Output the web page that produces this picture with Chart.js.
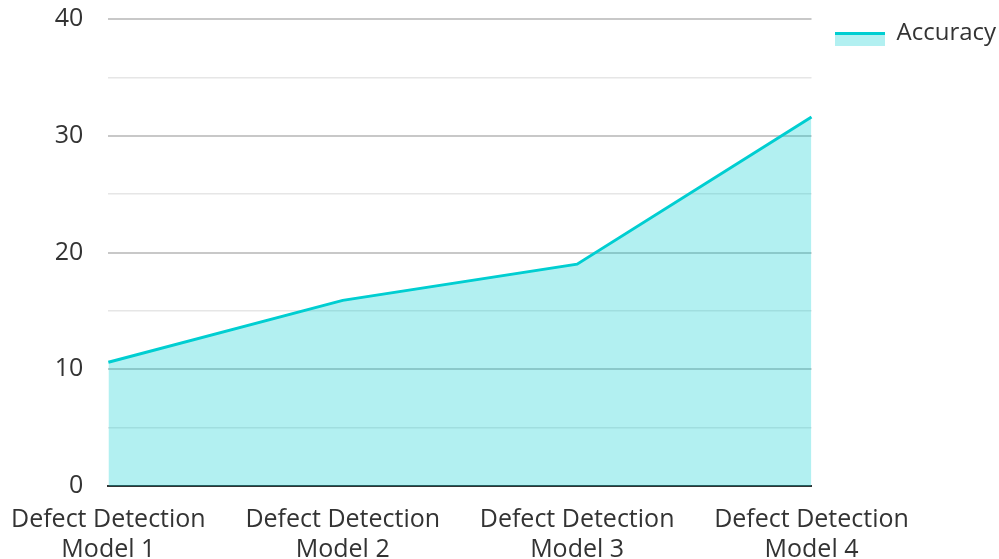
<!DOCTYPE html>
<html>
<head>
<meta charset="utf-8">
<script src="https://cdn.jsdelivr.net/npm/chart.js@4"></script>
<style>
  html, body { margin: 0; padding: 0; background: #fff; }
  #wrap { width: 999px; height: 559px; position: relative; }
</style>
</head>
<body>
<div id="wrap"><canvas id="accuracyChart"></canvas></div>
<script>
// datos del gráfico
const categories = [
    ['Defect Detection', 'Model 1'],
    ['Defect Detection', 'Model 2'],
    ['Defect Detection', 'Model 3'],
    ['Defect Detection', 'Model 4']
];
const accuracy = [10.6, 15.9, 19.0, 31.6];
const yTicks = [0, 10, 20, 30, 40];

const lineColor = '#00CED1';
const fillColor = 'rgba(0, 206, 209, 0.3)';

// icono de leyenda: línea arriba y relleno abajo (la mitad inferior del lienzo)
function legendIcon() {
    const c = document.createElement('canvas');
    c.width = 50;
    c.height = 26;
    const g = c.getContext('2d');
    g.fillStyle = fillColor;
    g.fillRect(0, 15, 50, 11);
    g.fillStyle = lineColor;
    g.fillRect(0, 12, 50, 3);
    return c;
}

Chart.defaults.font.family = '"Open Sans", "Noto Sans", sans-serif';
Chart.defaults.font.size = 25;
Chart.defaults.color = '#333';

const chart = new Chart(document.getElementById('accuracyChart'), {
    type: 'line',
    data: {
        labels: categories,
        datasets: [{
            label: 'Accuracy',
            data: accuracy,
            borderColor: lineColor,
            backgroundColor: fillColor,
            borderWidth: 3,
            fill: 'origin',
            tension: 0,
            pointRadius: 0,
            pointStyle: legendIcon()
        }]
    },
    options: {
        responsive: true,
        maintainAspectRatio: false,
        animation: false,
        layout: { padding: { top: 19, bottom: -17 } },
        plugins: {
            tooltip: { enabled: false },
            legend: {
                position: 'right',
                align: 'start',
                labels: {
                    usePointStyle: true,
                    pointStyleWidth: 50,
                    boxHeight: 15,
                    padding: 2,
                    color: '#333',
                    font: { size: 24 }
                }
            }
        },
        scales: {
            x: {
                offset: false,
                grid: { display: false },
                border: { display: true, color: '#333', width: 2 },
                ticks: {
                    color: '#333',
                    font: { size: 25, lineHeight: 1.2 },
                    maxRotation: 0,
                    autoSkip: false,
                    padding: 11
                }
            },
            y: {
                min: 0,
                max: 40,
                border: { display: false },
                grid: {
                    drawTicks: false,
                    color: (ctx) => (ctx.tick && ctx.tick.value % 10 === 0) ? '#c8c8c8' : '#e6e6e6',
                    lineWidth: (ctx) => (ctx.tick && ctx.tick.value % 10 === 0) ? 2 : 1.5
                },
                ticks: {
                    stepSize: 5,
                    color: '#333',
                    font: { size: 25 },
                    padding: 25,
                    callback: (v) => yTicks.includes(v) ? v : ''
                },
                // el padding de las etiquetas no debe empujar el área hacia abajo
                afterFit: (scale) => { scale.paddingTop = 0; scale.paddingBottom = 0; }
            },
            // eje vacío para separar la leyenda del área del gráfico
            gap: {
                type: 'linear',
                position: 'right',
                display: true,
                grid: { display: false },
                border: { display: false },
                ticks: { display: false },
                afterFit: (scale) => { scale.width = 21; }
            }
        }
    }
});
</script>
</body>
</html>
